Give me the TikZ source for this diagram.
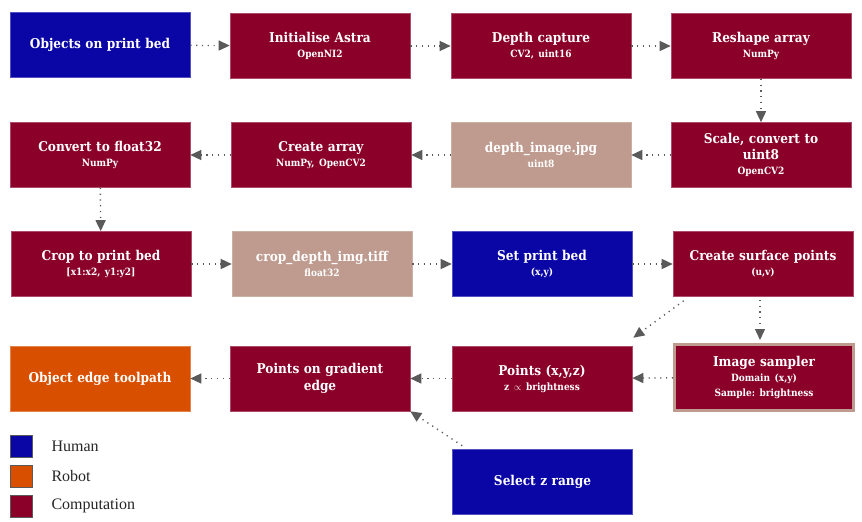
\documentclass[tikz,border=0pt]{standalone}
\usepackage{fontspec}
\setmainfont{Liberation Serif}
\newfontfamily\boxfont{DejaVu Serif Condensed}
\usetikzlibrary{arrows.meta}
\frenchspacing
\definecolor{hblue}{HTML}{0A05A5}
\definecolor{cmaroon}{HTML}{8A0028}
\definecolor{rorange}{HTML}{D94F00}
\definecolor{ftan}{HTML}{BF9B8F}
\definecolor{edgeg}{HTML}{5A5A5A}
\tikzset{
  box/.style={minimum width=180pt, minimum height=65pt, inner sep=2pt, text=white,
    font=\boxfont\bfseries\frenchspacing\fontsize{13.5pt}{16.5pt}\selectfont, align=center, text width=174pt},
  comp/.style={box, fill=cmaroon, draw=cmaroon!70!white, line width=0.6pt},
  human/.style={box, fill=hblue, draw=hblue!70!white, line width=0.6pt},
  robot/.style={box, fill=rorange, draw=rorange!70!white, line width=0.6pt},
  file/.style={box, fill=ftan, draw=ftan!80!white, line width=0.6pt},
  flow/.style={draw=edgeg, line width=1.4pt, dash pattern=on 1.2pt off 4.6pt,
    -{Triangle[length=11pt,width=10pt]}},
  legsq/.style={minimum width=22pt, minimum height=22pt, inner sep=0pt, draw=edgeg, line width=1pt},
  legtx/.style={anchor=west, font=\fontsize{16pt}{18pt}\selectfont, text=black!85}
}
\newcommand{\sub}[1]{\\[-1.5pt]{\fontsize{10pt}{12pt}\selectfont #1}}
\begin{document}
\begin{tikzpicture}[x=1pt,y=-1pt]
\useasboundingbox (0,0) rectangle (862,522);
% row 1
\node[human] (obj) at (100,45) {Objects on print bed};
\node[comp] (astra) at (320,46) {Initialise Astra\sub{OpenNI2}};
\node[comp] (depth) at (541,46) {Depth capture\sub{CV2, uint16}};
\node[comp] (reshape) at (761,46) {Reshape array\sub{NumPy}};
% row 2
\node[comp] (float) at (100,155) {Convert to float32\sub{NumPy}};
\node[comp] (carray) at (321,155) {Create array\sub{NumPy, OpenCV2}};
\node[file] (djpg) at (541,155) {depth\_image.jpg\sub{uint8}};
\node[comp] (scale) at (761,155) {Scale, convert to\\uint8\sub{OpenCV2}};
% row 3
\node[comp] (crop) at (101,264) {Crop to print bed\sub{[x1:x2, y1:y2]}};
\node[file] (tiff) at (322,264) {crop\_depth\_img.tiff\sub{float32}};
\node[human] (bed) at (542,264) {Set print bed\sub{(x,y)}};
\node[comp] (surf) at (763,264) {Create surface points\sub{(u,v)}};
% row 4
\node[robot] (tool) at (100,378.5) {Object edge toolpath};
\node[comp] (grad) at (320,378.5) {Points on gradient\\edge};
\node[comp] (pts) at (542,378.5) {Points (x,y,z)\sub{z $\propto$ brightness}};
\node[comp, draw=ftan, line width=3pt, minimum width=179pt, minimum height=66pt] (samp) at (764,377.5) {Image sampler\sub{Domain (x,y)}\sub{Sample: brightness}};
% row 5
\node[human] (selz) at (542.5,481.5) {Select z range};
% connectors
\draw[flow] (obj) -- (astra);
\draw[flow] (astra) -- (depth);
\draw[flow] (depth) -- (reshape);
\draw[flow] (reshape) -- (scale);
\draw[flow] (scale) -- (djpg);
\draw[flow] (djpg) -- (carray);
\draw[flow] (carray) -- (float);
\draw[flow] (float) -- (crop);
\draw[flow] (crop) -- (tiff);
\draw[flow] (tiff) -- (bed);
\draw[flow] (bed) -- (surf);
\coordinate (s1) at ([shift={(-3,3)}]surf.south);
\coordinate (s2) at ([shift={(-4,-3)}]samp.north);
\draw[flow] (s1) -- (s2);
\draw[flow] ([shift={(11,4)}]surf.south west) -- ([shift={(1,-8)}]pts.north east);
\draw[flow] (samp) -- (pts);
\draw[flow] (pts) -- (grad);
\draw[flow] (grad) -- (tool);
\draw[flow] ([shift={(10,-3)}]selz.north west) -- (grad.south east);
% legend
\node[legsq, fill=hblue] (lh) at (21,446) {};
\node[legsq, fill=rorange] (lr) at (21,476) {};
\node[legsq, fill=cmaroon] (lc) at (21,506) {};
\node[legtx] (lht) at (48,446) {Human};
\node[legtx] (lrt) at (48,476) {Robot};
\node[legtx] (lct) at (48,506) {Computation};
\end{tikzpicture}
\end{document}
